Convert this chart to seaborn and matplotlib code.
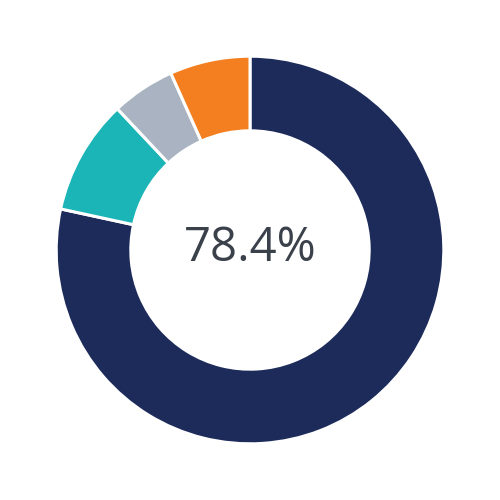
import matplotlib
matplotlib.use("Agg")
import matplotlib.pyplot as plt
import seaborn as sns

# slice shares in percent, clockwise from 12 o'clock
labels = ["Main", "Teal", "Gray", "Orange"]
shares = [78.4, 9.6, 5.3, 6.7]
colors = ["#1c2b5a", "#1bb5b8", "#a9b3c1", "#f37f20"]
center_text = "78.4%"

sns.set_theme(style="white")
plt.rcParams["font.family"] = ["Open Sans", "DejaVu Sans"]

fig, ax = plt.subplots(figsize=(5, 5), dpi=100)
fig.subplots_adjust(left=0, right=1, bottom=0, top=1)

ax.pie(shares, colors=colors, startangle=90, counterclock=False,
       radius=1.0,
       wedgeprops=dict(width=0.385, edgecolor="white", linewidth=2.2))
ax.text(0, 0.01, center_text, ha="center", va="center", fontsize=34,
        color="#3b414b")

ax.set_xlim(-1.29, 1.29)
ax.set_ylim(-1.29, 1.29)
ax.set_aspect("equal")
ax.axis("off")

fig.savefig("out.png", dpi=100, facecolor="white")
